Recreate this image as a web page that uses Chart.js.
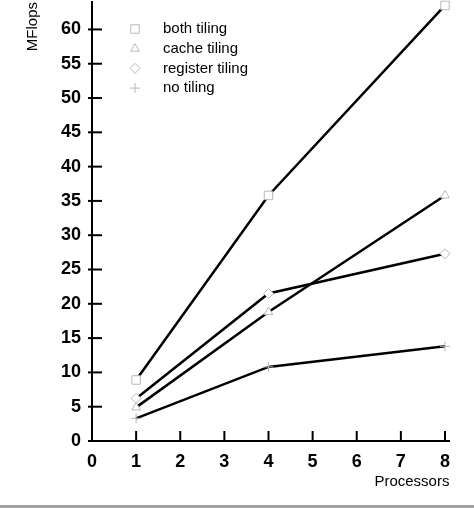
<!DOCTYPE html>
<html>
<head>
<meta charset="utf-8">
<script src="https://cdn.jsdelivr.net/npm/chart.js@4"></script>
<style>
  html, body { margin: 0; padding: 0; background: #fff; }
  #wrap { width: 474px; height: 505px; overflow: hidden; border-bottom: 3px solid #a2a2a2; }
  #chart { display: block; margin-top: -5px; }
</style>
</head>
<body>
<div id="wrap"><canvas id="chart" width="474" height="510"></canvas></div>
<script>
const processors = [1, 4, 8];
const seriesNames = ["both tiling", "cache tiling", "register tiling", "no tiling"];
const bothTiling = [8.9, 35.8, 63.5];
const cacheTiling = [4.9, 18.8, 35.8];
const registerTiling = [6.2, 21.5, 27.3];
const noTiling = [3.3, 10.8, 13.8];
const yTicks = [0, 5, 10, 15, 20, 25, 30, 35, 40, 45, 50, 55, 60];
const xTicks = [0, 1, 2, 3, 4, 5, 6, 7, 8];

const FONT = "'Liberation Sans', Arial, Helvetica, sans-serif";
const markers = ["rect", "triangle", "rectRot", "cross"];
const markerSize = [6, 5, 5, 5];
const allValues = [bothTiling, cacheTiling, registerTiling, noTiling];

function makeSet(i) {
    return {
        label: seriesNames[i],
        data: processors.map((p, j) => ({ x: p, y: allValues[i][j] })),
        borderColor: "#000",
        borderWidth: 2.5,
        pointStyle: markers[i],
        pointRadius: markerSize[i],
        pointBorderWidth: 1,
        pointBorderColor: "#b8b8b8",
        pointBackgroundColor: "#fff",
        tension: 0,
        clip: false
    };
}

// inward tick marks like the original plot
const innerTicks = {
    id: "innerTicks",
    afterDraw(chart) {
        const ctx = chart.ctx;
        const a = chart.chartArea;
        ctx.save();
        ctx.strokeStyle = "#000";
        ctx.lineWidth = 2;
        yTicks.forEach(v => {
            const y = chart.scales.y.getPixelForValue(v);
            ctx.beginPath();
            ctx.moveTo(a.left - 4, y);
            ctx.lineTo(a.left + 10, y);
            ctx.stroke();
        });
        xTicks.forEach(v => {
            const x = chart.scales.x.getPixelForValue(v);
            ctx.beginPath();
            ctx.moveTo(x, a.bottom);
            ctx.lineTo(x, a.bottom - 10);
            ctx.stroke();
        });
        ctx.restore();
    }
};

// legend drawn inside the plot, markers only
const innerLegend = {
    id: "innerLegend",
    afterDraw(chart) {
        const ctx = chart.ctx;
        ctx.save();
        chart.data.datasets.forEach((ds, i) => {
            const y = 34 + i * 19.7;
            ctx.strokeStyle = "#b8b8b8";
            ctx.fillStyle = "#fff";
            ctx.lineWidth = 1;
            Chart.helpers.drawPoint(ctx, { pointStyle: ds.pointStyle, radius: markerSize[i], rotation: 0, borderWidth: 1 }, 135, y);
            ctx.fillStyle = "#000";
            ctx.font = "15px " + FONT;
            ctx.textBaseline = "middle";
            ctx.textAlign = "left";
            ctx.fillText(ds.label, 163, y);
        });
        ctx.restore();
    }
};

new Chart(document.getElementById("chart").getContext("2d"), {
    type: "line",
    data: { datasets: [0, 1, 2, 3].map(makeSet) },
    options: {
        responsive: false,
        animation: false,
        layout: { padding: { top: 0, right: 24.6, left: 0, bottom: 0 } },
        plugins: { legend: { display: false }, tooltip: { enabled: false } },
        scales: {
            x: {
                type: "linear",
                min: 0,
                max: 8.1,
                afterBuildTicks: s => { s.ticks = xTicks.map(v => ({ value: v })); },
                afterFit: s => { s.height = 64; s.paddingLeft = 0; s.paddingRight = 0; },
                grid: { drawOnChartArea: false, drawTicks: false },
                border: { color: "#000", width: 2 },
                ticks: { color: "#000", padding: 10, font: { family: FONT, size: 18, weight: "bold" } },
                title: { display: true, text: "Processors", align: "end", color: "#000", padding: { top: 0, bottom: 14 }, font: { family: FONT, size: 15 } }
            },
            y: {
                min: 0,
                max: 64,
                afterBuildTicks: s => { s.ticks = yTicks.map(v => ({ value: v })); },
                afterFit: s => { s.width = 92; s.paddingTop = 0; s.paddingBottom = 0; },
                grid: { drawOnChartArea: false, drawTicks: false },
                border: { color: "#000", width: 2 },
                ticks: { color: "#000", padding: 11, font: { family: FONT, size: 18, weight: "bold" } },
                title: { display: true, text: "MFlops", align: "end", color: "#000", padding: { top: 24, bottom: 0 }, font: { family: FONT, size: 15 } }
            }
        }
    },
    plugins: [innerTicks, innerLegend]
});
</script>
</body>
</html>
